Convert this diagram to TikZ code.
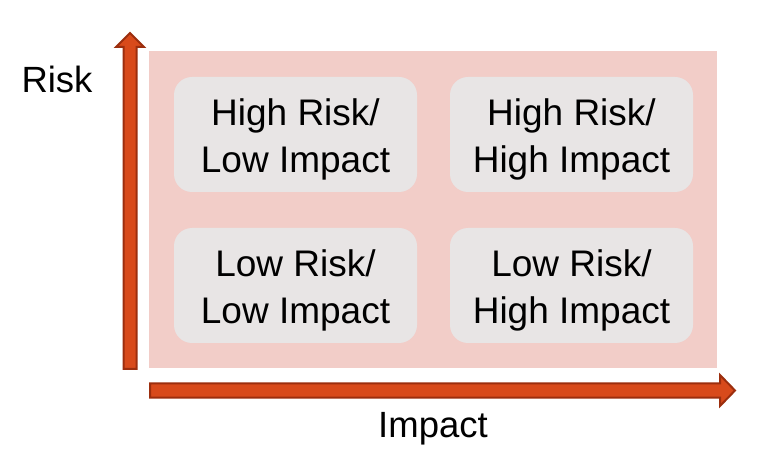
\documentclass[tikz,border=0pt]{standalone}
\usepackage{fontspec}
\setmainfont{Liberation Sans}
\definecolor{pinkbg}{HTML}{F2CDC8}
\definecolor{boxgray}{HTML}{E8E5E5}
\definecolor{arrowfill}{HTML}{D84A1B}
\definecolor{arrowedge}{HTML}{9C2E0E}
\begin{document}
\begin{tikzpicture}[x=1pt,y=-1pt,
  quad/.style={fill=boxgray, rounded corners=18pt, minimum width=243pt, minimum height=115pt, inner sep=0pt},
  quadtext/.style={align=center, font=\fontsize{37}{47}\selectfont, inner sep=0pt},
  axisarrow/.style={fill=arrowfill, draw=arrowedge, line width=2pt, line join=miter},
  axislabel/.style={font=\fontsize{36.5}{43}\selectfont, inner sep=0pt}]
\useasboundingbox (0,0) rectangle (758,470);
\fill[pinkbg] (149,51) rectangle (717,368);
\node[quad] (hl) at (295.5,134.5) {};
\node[quad] (hh) at (571.5,134.5) {};
\node[quad] (ll) at (295.5,285.5) {};
\node[quad] (lh) at (571.5,285.5) {};
\node[quadtext] (hlt) at ([yshift=-5pt]hl.center) {High Risk/\\Low Impact};
\node[quadtext] (hht) at ([yshift=-5pt]hh.center) {High Risk/\\High Impact};
\node[quadtext] (llt) at ([yshift=-5pt]ll.center) {Low Risk/\\Low Impact};
\node[quadtext] (lht) at ([yshift=-5pt]lh.center) {Low Risk/\\High Impact};
% vertical axis arrow
\draw[axisarrow] (123.5,369) -- (123.5,47) -- (116,47) -- (130,33) -- (144,47) -- (136.5,47) -- (136.5,369) -- cycle;
% horizontal axis arrow
\draw[axisarrow] (150,383.5) -- (720,383.5) -- (720,375) -- (735,390.5) -- (720,406) -- (720,397.5) -- (150,397.5) -- cycle;
\node[axislabel] (risk) at (57,79) {Risk};
\node[axislabel] (impact) at (433,429) {Impact};
\end{tikzpicture}
\end{document}
